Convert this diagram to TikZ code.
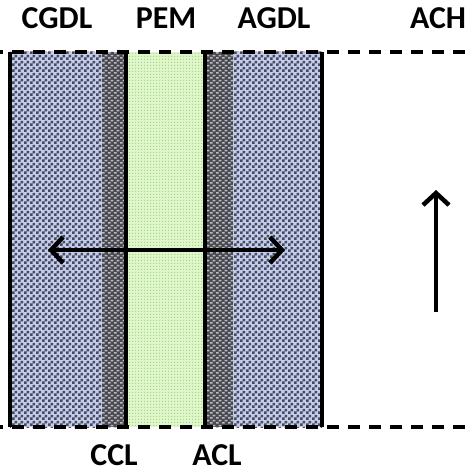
\documentclass[tikz,border=0pt]{standalone}
\usepackage{fontspec}
\setmainfont{Carlito}
\usetikzlibrary{arrows.meta,patterns}

\definecolor{gdllight}{RGB}{196,204,236}
\definecolor{gdldark}{RGB}{70,74,92}
\definecolor{cldark}{RGB}{74,74,78}
\definecolor{cllight}{RGB}{185,188,200}
\definecolor{pemlight}{RGB}{224,246,204}
\definecolor{pemdot}{RGB}{165,218,128}

\pgfdeclarepatternformonly{gdlcheck}{\pgfpointorigin}{\pgfqpoint{6bp}{6bp}}{\pgfqpoint{6bp}{6bp}}{
  \pgfpathrectangle{\pgfpointorigin}{\pgfqpoint{3bp}{3bp}}
  \pgfpathrectangle{\pgfqpoint{3bp}{3bp}}{\pgfqpoint{3bp}{3bp}}
  \pgfusepath{fill}}
\pgfdeclarepatternformonly{cldash}{\pgfpointorigin}{\pgfqpoint{6bp}{5bp}}{\pgfqpoint{6bp}{5bp}}{
  \pgfpathrectangle{\pgfqpoint{0bp}{0.5bp}}{\pgfqpoint{3bp}{1.8bp}}
  \pgfpathrectangle{\pgfqpoint{3bp}{3bp}}{\pgfqpoint{3bp}{1.8bp}}
  \pgfusepath{fill}}
\pgfdeclarepatternformonly{pemdots}{\pgfpointorigin}{\pgfqpoint{3bp}{3bp}}{\pgfqpoint{3bp}{3bp}}{
  \pgfpathrectangle{\pgfpointorigin}{\pgfqpoint{1.5bp}{1.5bp}}
  \pgfusepath{fill}}

\tikzset{
  gdl/.style={fill=gdllight, postaction={pattern=gdlcheck, pattern color=gdldark}},
  cl/.style={fill=cldark, postaction={pattern=cldash, pattern color=cllight}},
  pem/.style={fill=pemlight, postaction={pattern=pemdots, pattern color=pemdot}},
  wall/.style={line width=3.5bp},
  border/.style={line width=3.5bp, dash pattern=on 12bp off 9bp, dash phase=9bp},
  flow/.style={line width=4.5bp},
  tip/.style={Straight Barb[length=12bp,width=26bp]},
  lbl/.style={font=\fontsize{32}{34}\selectfont\bfseries, inner sep=0pt}
}

\begin{document}
\begin{tikzpicture}[x=1bp, y=-1bp]
        \useasboundingbox (0,0) rectangle (474,474);
        \fill[gdl] (10,52) rectangle (102,427);
        \fill[cl] (102,52) rectangle (126,427);
        \fill[pem] (126,52) rectangle (205,427);
        \fill[cl] (205,52) rectangle (233,427);
        \fill[gdl] (233,52) rectangle (322,427);
        \draw[border] (0,52) -- (474,52);
        \draw[border] (0,427) -- (474,427);
        \foreach \x in {10,126,205,322}
            \draw[wall] (\x,52) -- (\x,427);
        \node[lbl] (cgdl) at (57,18) {CGDL};
        \node[lbl] (pem) at (166,18) {PEM};
        \node[lbl] (agdl) at (274,18) {AGDL};
        \node[lbl] (ach) at (438,18) {ACH};
        \node[lbl] (ccl) at (114,455) {CCL};
        \node[lbl] (acl) at (217,455) {ACL};
        \coordinate (fluxL) at (48,250);
        \coordinate (fluxR) at (285,250);
        \coordinate (chanB) at (436,312);
        \coordinate (chanT) at (436,190);
        \draw[flow, {Straight Barb[length=12bp,width=26bp]}-{Straight Barb[length=12bp,width=26bp]}] (fluxL) -- (fluxR);
        \draw[flow, -{Straight Barb[length=12bp,width=26bp]}] (chanB) -- (chanT);
    \end{tikzpicture}
\end{document}
